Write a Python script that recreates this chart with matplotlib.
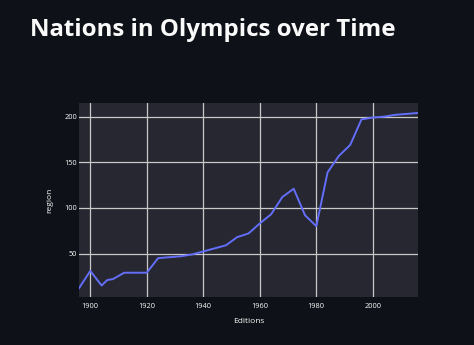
import matplotlib
matplotlib.use("Agg")
import matplotlib.pyplot as plt

# Number of participating nations per Olympic edition
editions = [1896, 1900, 1904, 1906, 1908, 1912, 1920, 1924, 1928, 1932, 1936,
            1948, 1952, 1956, 1960, 1964, 1968, 1972, 1976, 1980, 1984, 1988,
            1992, 1996, 2000, 2004, 2008, 2012, 2016]
nations = [12, 31, 15, 21, 22, 29, 29, 45, 46, 47, 49,
           59, 68, 72, 83, 93, 112, 121, 92, 80, 139, 157,
           169, 197, 199, 200, 202, 203, 204]
x_ticks = [1900, 1920, 1940, 1960, 1980, 2000]
y_ticks = [50, 100, 150, 200]

BG = "#0e1117"
PLOT_BG = "#262730"
GRID = "#c8c8c8"
TEXT = "#fafafa"
LINE = "#636efa"

fig = plt.figure(figsize=(4.74, 3.45), dpi=100, facecolor=BG)
W, H = 474, 345
left, right, top, bottom = 79, 418, 103, 297
ax = fig.add_axes([left / W, 1 - bottom / H, (right - left) / W, (bottom - top) / H])
ax.set_facecolor(PLOT_BG)

ax.plot(editions, nations, color=LINE, linewidth=1.4, zorder=3)

ax.set_xlim(min(editions), max(editions))
span = max(nations) - min(nations)
ax.set_ylim(min(nations) - 0.05 * span, max(nations) + 0.057 * span)
ax.set_xticks(x_ticks)
ax.set_yticks(y_ticks)
ax.grid(True, color=GRID, linewidth=0.9, zorder=1)
ax.set_axisbelow(True)
for s in ax.spines.values():
    s.set_visible(False)
ax.tick_params(length=0, colors=TEXT, labelsize=5.3)
ax.tick_params(axis="y", pad=1.5)
ax.tick_params(axis="x", pad=4)
for lab in ax.get_xticklabels() + ax.get_yticklabels():
    lab.set_family("Open Sans")

ax.set_xlabel("Editions", color=TEXT, fontsize=6, family="Open Sans", labelpad=6)
ax.set_ylabel("region", color=TEXT, fontsize=6, family="Open Sans", labelpad=8)

fig.text(30 / W, 1 - 30 / H, "Nations in Olympics over Time", color=TEXT,
         fontsize=17.3, fontweight="bold", family="Open Sans",
         ha="left", va="center")

fig.savefig("out.png", dpi=100, facecolor=BG)
